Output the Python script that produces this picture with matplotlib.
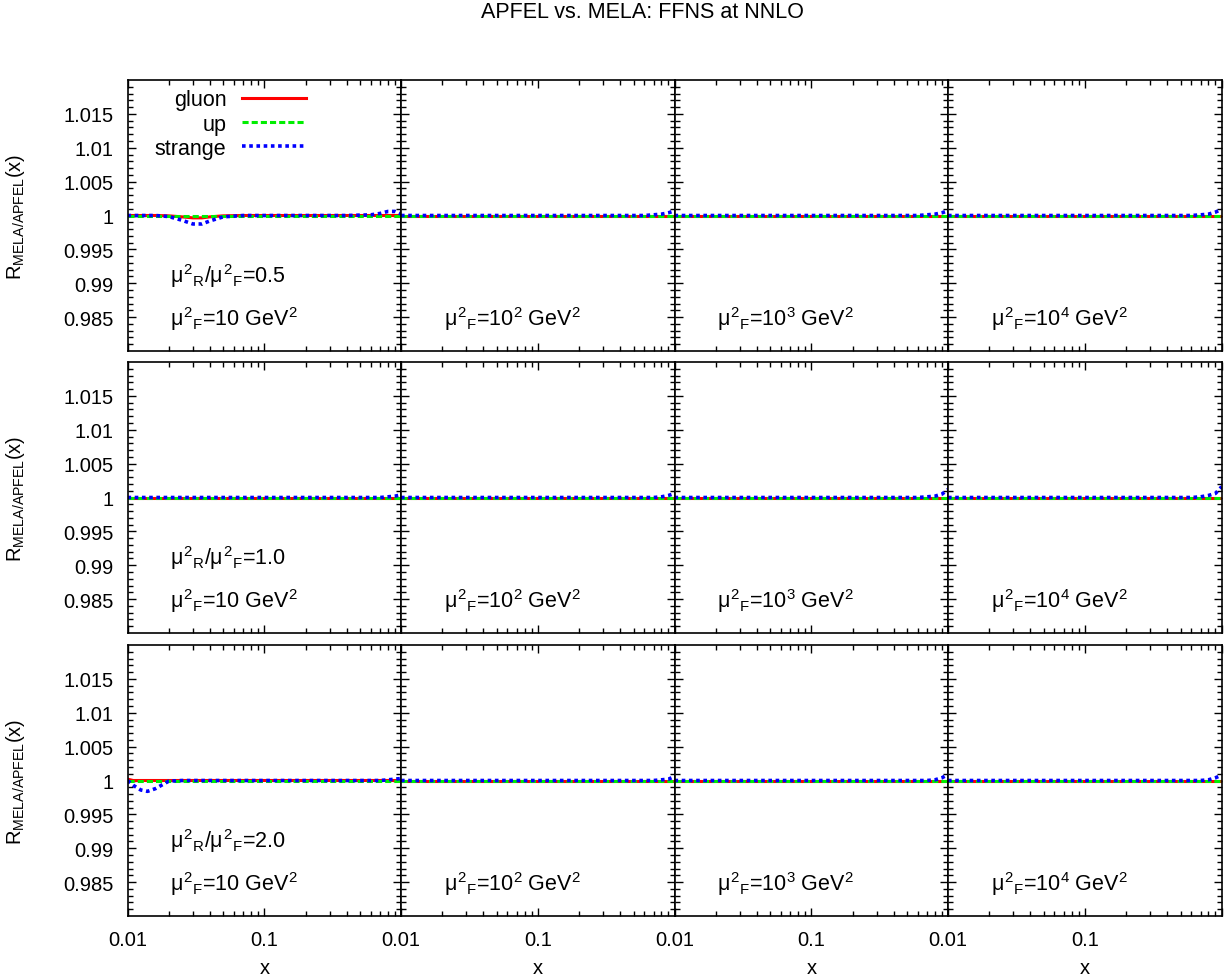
import matplotlib
matplotlib.use('Agg')
import matplotlib.pyplot as plt
from matplotlib.ticker import FixedLocator, NullFormatter, LogLocator

plt.rcParams['font.family'] = ['Liberation Sans', 'DejaVu Sans']
plt.rcParams['mathtext.fontset'] = 'custom'
plt.rcParams['mathtext.rm'] = 'Liberation Sans'
plt.rcParams['mathtext.it'] = 'Liberation Sans'
plt.rcParams['mathtext.bf'] = 'Liberation Sans:bold'

# x grid (log spaced points)
x = [0.01, 0.011, 0.0125, 0.014, 0.016, 0.02, 0.025, 0.03, 0.035, 0.04,
     0.05, 0.07, 0.1, 0.2, 0.4, 0.6, 0.7, 0.8, 0.9, 1.0]

flat = [1.0, 1.0, 1.0, 1.0, 1.0, 1.0, 1.0, 1.0, 1.0, 1.0,
        1.0, 1.0, 1.0, 1.0, 1.0, 1.0, 1.0, 1.0, 1.0, 1.0]

ratios = ['0.5', '1.0', '2.0']
scales = ['10', '10$^2$', '10$^3$', '10$^4$']

# gluon, one list per row/column
gluon_05_q1 = [1.0, 1.0, 1.0, 1.0, 1.0, 0.99995, 0.9998, 0.99965, 0.99965, 0.9998,
               0.99995, 1.0, 1.0, 1.0, 1.0, 1.0, 1.0, 1.0, 1.0, 1.0]
gluon_20_q1 = [1.0002, 1.0, 1.0, 1.0, 1.0, 1.0, 1.0, 1.0, 1.0, 1.0,
               1.0, 1.0, 1.0, 1.0, 1.0, 1.0, 1.0, 1.0, 1.0, 1.0]

# strange, per row (mu_R^2/mu_F^2) and column (mu_F^2)
strange_05 = [
    [1.0, 1.0, 1.0, 1.0, 1.0, 0.99985, 0.9993, 0.99875, 0.99875, 0.9992,
     0.9998, 1.0, 1.0, 1.0, 1.0, 1.0001, 1.0003, 1.0006, 1.0006, 1.0002],
    [1.0, 1.0, 1.0, 1.0, 1.0, 1.0, 1.0, 1.0, 1.0, 1.0,
     1.0, 1.0, 1.0, 1.0, 1.0, 1.0, 1.0001, 1.0002, 1.0004, 1.0007],
    [1.0, 1.0, 1.0, 1.0, 1.0, 1.0, 1.0, 1.0, 1.0, 1.0,
     1.0, 1.0, 1.0, 1.0, 1.0, 1.0, 1.0001, 1.0002, 1.0004, 1.0007],
    [1.0, 1.0, 1.0, 1.0, 1.0, 1.0, 1.0, 1.0, 1.0, 1.0,
     1.0, 1.0, 1.0, 1.0, 1.0, 1.0, 1.0001, 1.0002, 1.0005, 1.0009],
]
strange_10 = [
    [1.0, 1.0, 1.0, 1.0, 1.0, 1.0, 1.0, 1.0, 1.0, 1.0,
     1.0, 1.0, 1.0, 1.0, 1.0, 1.0, 1.0, 1.0001, 1.0002, 1.0004],
    [1.0, 1.0, 1.0, 1.0, 1.0, 1.0, 1.0, 1.0, 1.0, 1.0,
     1.0, 1.0, 1.0, 1.0, 1.0, 1.0, 1.0, 1.0001, 1.0003, 1.0006],
    [1.0, 1.0, 1.0, 1.0, 1.0, 1.0, 1.0, 1.0, 1.0, 1.0,
     1.0, 1.0, 1.0, 1.0, 1.0, 1.0, 1.0001, 1.0002, 1.0005, 1.0012],
    [1.0, 1.0, 1.0, 1.0, 1.0, 1.0, 1.0, 1.0, 1.0, 1.0,
     1.0, 1.0, 1.0, 1.0, 1.0, 1.0, 1.0001, 1.0003, 1.0006, 1.0016],
]
strange_20 = [
    [1.0, 0.9993, 0.9986, 0.9984, 0.9988, 0.9999, 1.0, 1.0, 1.0, 1.0,
     1.0, 1.0, 1.0, 1.0, 1.0, 1.0, 1.0, 1.0001, 1.0002, 1.0003],
    [1.0, 1.0, 1.0, 1.0, 1.0, 1.0, 1.0, 1.0, 1.0, 1.0,
     1.0, 1.0, 1.0, 1.0, 1.0, 1.0, 1.0, 1.0001, 1.0002, 1.0006],
    [1.0, 1.0, 1.0, 1.0, 1.0, 1.0, 1.0, 1.0, 1.0, 1.0,
     1.0, 1.0, 1.0, 1.0, 1.0, 1.0, 1.0, 1.0001, 1.0004, 1.0009],
    [1.0, 1.0, 1.0, 1.0, 1.0, 1.0, 1.0, 1.0, 1.0, 1.0,
     1.0, 1.0, 1.0, 1.0, 1.0, 1.0, 1.0, 1.0001, 1.0004, 1.0008],
]

gluon = [[gluon_05_q1, flat, flat, flat],
         [flat, flat, flat, flat],
         [gluon_20_q1, flat, flat, flat]]
up = [[flat] * 4, [flat] * 4, [flat] * 4]
strange = [strange_05, strange_10, strange_20]

yticks = [0.985, 0.99, 0.995, 1.0, 1.005, 1.01, 1.015]
ytick_labels = ['0.985', '0.99', '0.995', '1', '1.005', '1.01', '1.015']
yminor = [0.981 + 0.001 * i for i in range(39)]

W, H = 1224, 979
fig = plt.figure(figsize=(W / 100, H / 100), dpi=100)

col_left = [127.5, 401.0, 674.5, 948.0]
col_w = 273.7
row_top = [81, 363, 646]
row_h = 271

fs = 14.5
fs_note = 15.5
for r in range(3):
    for c in range(4):
        ax = fig.add_axes([col_left[c] / W, 1 - (row_top[r] + row_h) / H,
                           col_w / W, row_h / H])
        ax.plot(x, gluon[r][c], color='#ff0000', lw=2.2, label='gluon')
        ax.plot(x, up[r][c], color='#00ee00', lw=2.2, ls=(0, (2.0, 1.0)),
                label='up')
        ax.plot(x, strange[r][c], color='#0000ff', lw=2.6, ls=(0, (1.0, 1.0)),
                label='strange')
        ax.set_xscale('log')
        ax.set_xlim(0.01, 1.0)
        ax.set_ylim(0.98, 1.02)
        ax.xaxis.set_major_locator(FixedLocator([0.01, 0.1, 1.0]))
        ax.xaxis.set_minor_locator(LogLocator(base=10, subs=range(2, 10)))
        ax.xaxis.set_minor_formatter(NullFormatter())
        ax.set_yticks(yticks)
        ax.yaxis.set_minor_locator(FixedLocator(yminor))
        ax.tick_params(which='both', direction='in', top=True, right=True,
                       labelsize=fs, width=1.0, colors='black')
        ax.tick_params(which='major', length=6)
        ax.tick_params(which='minor', length=3.5)
        if r == 2:
            ax.set_xticklabels(['0.01', '0.1', ''])
            ax.tick_params(axis='x', pad=10)
            ax.set_xlabel('x', fontsize=fs, va='center')
            ax.xaxis.set_label_coords(0.5, -(968 - 916) / row_h)
        else:
            ax.set_xticklabels([])
        if c == 0:
            ax.set_yticklabels(ytick_labels)
            ax.tick_params(axis='y', pad=10)
            ax.set_ylabel(r'R$_{\rm MELA/APFEL}$(x)', fontsize=fs, va='center')
            ax.yaxis.set_label_coords(-(col_left[0] - 16) / col_w, 0.5)
        else:
            ax.set_yticklabels([])
        for sp in ax.spines.values():
            sp.set_linewidth(1.2)

        if c == 0:
            ax.text(0.157, 0.282,
                    r'$\mu^2{}_{\rm R}/\mu^2{}_{\rm F}$=' + ratios[r],
                    transform=ax.transAxes, fontsize=fs_note, va='center')
        ax.text(0.157, 0.12, r'$\mu^2{}_{\rm F}$=' + scales[c] + ' GeV$^2$',
                transform=ax.transAxes, fontsize=fs_note, va='center')

        if r == 0 and c == 0:
            ax.legend(loc='upper right', bbox_to_anchor=(0.653, 0.965),
                      frameon=False, markerfirst=False, fontsize=fs_note,
                      handlelength=3.0, handletextpad=0.7, labelspacing=0.15,
                      borderpad=0, borderaxespad=0)

fig.text(642.5 / W, 1 - 12 / H, 'APFEL vs. MELA: FFNS at NNLO', ha='center',
         va='center', fontsize=15.5)

fig.savefig('out.png', dpi=100)
